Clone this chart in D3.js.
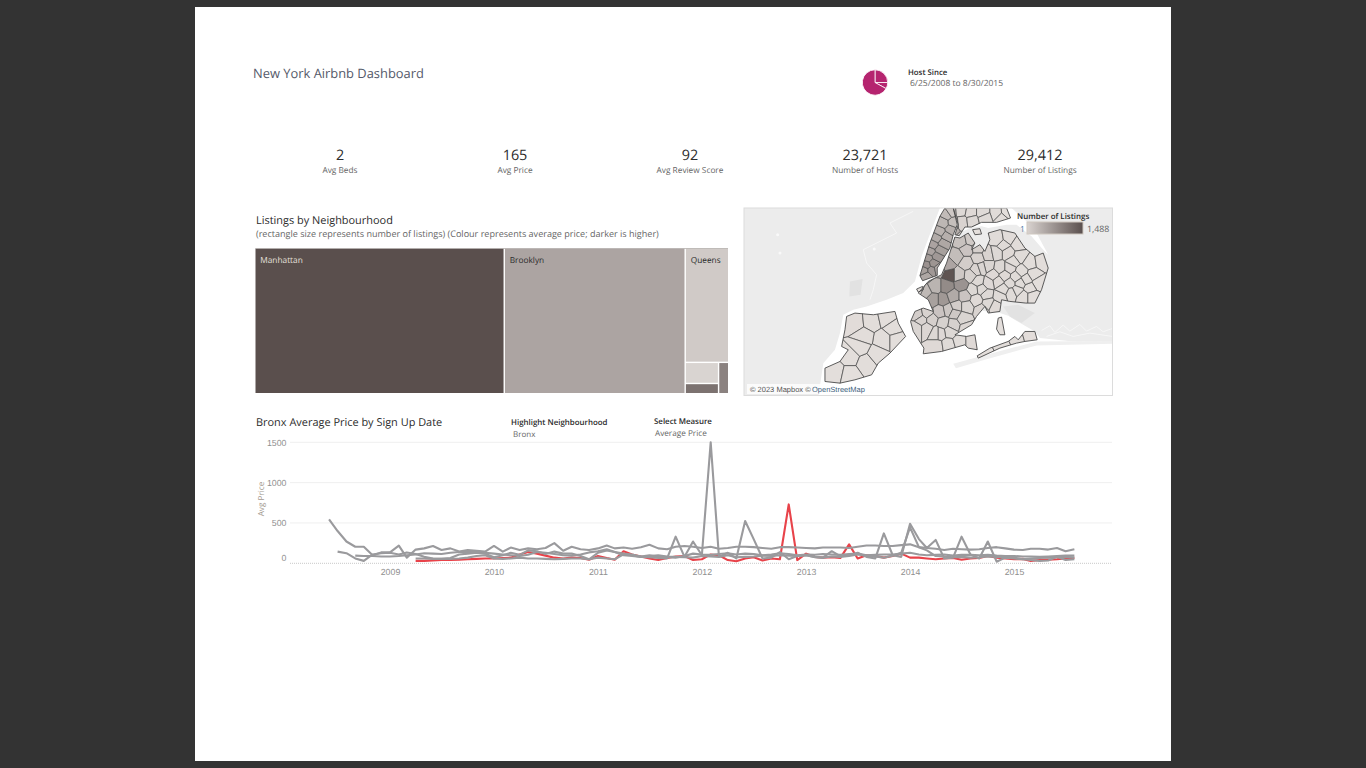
<!DOCTYPE html>
<html>
<head>
<meta charset="utf-8">
<title>New York Airbnb Dashboard</title>
<script src="https://cdnjs.cloudflare.com/ajax/libs/d3/7.8.5/d3.min.js"></script>
<style>
html, body { margin: 0; padding: 0; background: #333333; overflow: hidden; }
svg { display: block; font-family: "Open Sans", "Noto Sans", sans-serif; text-rendering: geometricPrecision; }
</style>
</head>
<body>
<svg id="dash" width="1366" height="768"></svg>
<script>
// kpi row
var kpiLabels = ["Avg Beds", "Avg Price", "Avg Review Score", "Number of Hosts", "Number of Listings"];
var kpiValues = ["2", "165", "92", "23,721", "29,412"];

// host since pie
var hostSlices = [25, 8, 67];

// treemap
var boroughs = ["Manhattan", "Brooklyn", "Queens", "Bronx", "Staten Island", "Other"];
var boroughListings = [15480, 11230, 2120, 300, 145, 135];
var boroughPrice = [190, 120, 89, 81, 161, 148];

// line chart, monthly values, one row per calendar year
var yearTicks = [2009, 2010, 2011, 2012, 2013, 2014, 2015];
var priceTicks = [0, 500, 1000, 1500];
var seriesA = [
  545, 400, 270, 205, 205, 100, 135,
  135, 220, 70, 170, 185, 215, 165, 185, 145, 165, 155, 145,
  215, 145, 195, 165, 185, 175, 190, 250, 155, 205, 175, 165,
  185, 220, 185, 195, 180, 200, 230, 185, 175, 205, 215, 205,
  190, 205, 180, 190, 205, 205, 200, 190, 180, 200, 200, 195,
  190, 185, 195, 195, 195, 190, 205, 220, 220, 215, 215, 225,
  235, 200, 190, 180, 165, 180, 175, 170, 175, 190, 200, 185,
  170, 165, 180, 180, 170, 190, 150, 175
];
var seriesB = [
  145, 125, 60, 30, 110, 125,
  130, 110, 135, 115, 80, 60, 55, 65, 110, 120, 130, 120,
  75, 100, 130, 105, 160, 150, 115, 145, 120, 120, 90, 50,
  130, 160, 140, 120, 110, 85, 100, 80, 75, 70, 90, 120,
  110, 105, 115, 125, 110, 120, 115, 100, 110, 125, 115, 100,
  110, 105, 115, 110, 105, 115, 120, 100, 105, 110, 110, 120,
  130, 110, 100, 105, 110, 95, 105, 105, 100, 105, 95, 90,
  90, 85, 85, 80, 85, 90, 95, 95
];
var seriesC = [
  95, 90, 90, 85,
  85, 90, 100, 110, 125, 120, 115, 130, 140, 145, 140, 130,
  120, 110, 100, 90, 105, 140, 130, 115, 100, 95, 110, 135,
  150, 175, 140, 100, 90, 80, 90, 100, 85, 80, 75, 70,
  90, 85, 80, 100, 75, 80, 85, 95, 90, 100, 95, 90,
  100, 75, 70, 85, 80, 90, 110, 95, 85, 70, 95, 130,
  445, 200, 160, 90, 85, 75, 80, 70, 75, 85, 80, 75,
  70, 50, 60, 65, 70, 75, 80, 70
];
var seriesD = [
  60, 60, 55, 55, 55, 60, 70, 90, 100,
  60, 55, 60, 70, 60, 60, 55, 50, 55, 60, 60, 50,
  70, 60, 50, 110, 100, 80, 75, 65, 60, 330, 80, 270,
  100, 1500, 80, 130, 60, 525, 300, 60, 70, 140, 50, 90,
  100, 80, 70, 150, 90, 100, 130, 80, 60, 370, 100, 80,
  490, 300, 190, 290, 60, 70, 330, 110, 60, 270, 20, 70,
  60, 50, 40, 30, 35, 80, 40, 50
];
var seriesRed = [
  30, 30, 35, 40, 40, 45, 50, 55, 60,
  60, 65, 70, 110, 140, 120, 95, 70, 60, 70, 65, 45,
  90, 65, 45, 150, 110, 85, 60, 40, 65, 85, 90, 40,
  50, 110, 100, 40, 25, 60, 75, 35, 60, 50, 730, 40,
  120, 80, 70, 75, 65, 235, 60, 100, 90, 70, 90, 120,
  70, 70, 60, 50, 60, 65, 45, 60, 65, 90, 70, 60,
  50, 55, 30, 40, 45, 50, 60, 65
];
var seriesStart = [
  [2008, 5], [2008, 6], [2008, 8], [2009, 3]
];

// map, traced in map units
var stateIsland = [[320,350],[345,340],[400,345],[465,335],[475,370],[497,410],[450,460],[415,490],[395,525],[345,540],[300,550],[255,545],[255,505],[300,485],[325,450],[305,440],[315,390]];
var manhattan = [[615,25],[640,25],[652,75],[640,105],[630,145],[592,205],[592,227],[548,243],[540,228],[570,130],[600,50]];
var bronx = [[640,25],[800,25],[812,55],[770,68],[725,68],[695,82],[675,82],[658,108],[645,105],[655,75]];
var longIsland = [[605,225],[620,190],[645,112],[660,115],[685,100],[705,130],[695,150],[720,135],[735,155],[750,120],[745,100],[780,90],[825,100],[855,145],[885,170],[910,160],[925,205],[905,270],[885,310],[858,310],[810,305],[785,300],[780,335],[745,340],[735,320],[710,350],[695,375],[645,405],[680,410],[705,405],[712,450],[685,445],[675,435],[605,455],[550,462],[552,445],[520,395],[512,365],[525,335],[550,325],[580,335],[565,300],[535,280],[565,245]];
var rockaway = [[712,468],[750,445],[805,425],[825,410],[835,420],[855,395],[885,395],[892,420],[855,425],[830,430],[780,445],[715,475]];
var channelIsland = [[775,355],[785,352],[795,405],[780,405],[770,388]];
var governors = [[530,268],[548,260],[550,270],[535,277]];
var rikers = [[698,90],[720,87],[725,103],[705,105]];
var landShapes = [stateIsland, manhattan, bronx, longIsland, rockaway, channelIsland, governors, rikers];

var harbourWater = [[600,25],[575,90],[545,170],[525,245],[490,280],[440,300],[380,320],[340,330],[310,345],[300,400],[285,450],[250,490],[235,590],[1118,590],[1118,425],[1000,425],[900,415],[885,395],[850,375],[805,348],[780,340],[700,330],[600,300],[625,200],[660,100],[690,85],[725,80],[745,85],[800,75],[830,75],[875,110],[910,150],[925,165],[890,100],[860,65],[815,25]];
var beachStrip = [[640,492],[720,470],[890,425],[1118,424],[1118,432],[890,437],[740,478],[648,505]];
var airportPatches = [[[790,320],[835,315],[885,340],[845,370],[810,350]], [[330,245],[368,238],[362,285],[328,290]]];
var riverLines = [
  [[520,35],[450,70],[470,100],[370,150],[380,190],[410,225],[400,270],[390,300]],
  [[905,392],[930,378],[945,398],[970,376],[990,394],[1020,374],[1040,394],[1070,380],[1090,396],[1118,386]],
  [[920,410],[960,396],[1000,410],[1050,400],[1118,410]]
];
var pondSpots = [[113,105],[120,160],[403,148]];

// [x, y, listings] for each neighbourhood
var mapZones = [
  [560,228,480],[553,212,560],[575,212,640],[560,195,720],[580,190,680],[595,208,440],[565,175,600],[590,170,640],
  [572,155,520],[600,150,560],[580,135,520],[610,130,480],[590,115,440],[620,110,400],[600,95,360],[632,90,400],
  [610,70,320],[640,68,240],[622,45,280],[632,38,160],
  [665,35,40],[690,40,30],[730,40,25],[770,40,20],[800,38,5],[668,65,70],[695,62,40],[735,52,25],[785,55,15],[712,96,1],
  [665,125,220],[690,120,150],[680,150,200],[715,145,100],[650,170,260],[680,190,120],[715,175,80],[745,165,70],
  [710,210,70],[745,200,60],[775,120,20],[805,115,15],[835,135,15],[770,160,40],[805,160,30],[840,170,20],
  [870,190,10],[905,185,8],[780,205,45],[810,205,35],[845,215,15],[880,225,10],[895,250,6],[870,265,8],[840,250,20],
  [810,250,25],[775,245,30],[745,250,35],[715,245,40],[700,270,45],[740,285,40],[765,320,30],[815,280,20],[850,290,15],[878,290,8],
  [632,225,1488],[625,195,500],[665,255,700],[620,260,800],[585,260,350],[610,300,650],[580,300,550],[640,290,450],
  [675,290,200],[600,335,200],[625,330,180],[645,340,160],[680,320,60],[670,355,60],[555,275,300],[535,345,120],
  [560,340,80],[575,360,100],[610,370,90],[640,375,90],[680,385,50],[725,330,70],[745,310,40],[530,385,60],[560,385,50],
  [590,400,40],[630,395,40],[695,425,30],[590,440,30],[625,435,25],[660,425,15],[780,290,25],[710,300,30],
  [790,135,25],[820,185,20],[760,225,35],[795,228,30],[828,232,22],[860,238,10],[790,268,22],[832,272,15],[725,205,60],[692,228,90],
  [655,225,160],[725,268,40],[600,400,35],[545,360,70],[650,320,120],
  [345,370,12],[395,365,8],[440,355,6],[460,385,10],[430,420,10],[470,420,5],[370,410,8],[330,470,4],[380,490,8],
  [285,515,3],[410,465,5],[360,440,6],[330,525,2],
  [735,465,6],[790,440,8],[830,420,10],[872,408,7],[782,380,2],[540,268,1]
];

var svg = d3.select("#dash");
var textDark = "#2b2b2b", textGrey = "#666666", axisGrey = "#8f8f8f";

svg.append("rect").attr("x", 195).attr("y", 7).attr("width", 976).attr("height", 754).attr("fill", "#ffffff");

function label(x, y, str, size, color, anchor, weight) {
  return svg.append("text").attr("x", x).attr("y", y).text(str)
    .attr("font-size", size).attr("fill", color)
    .attr("text-anchor", anchor || "start").attr("font-weight", weight || 400);
}

// header
label(253, 78, "New York Airbnb Dashboard", 12.9, "#555a6a");
label(908, 75, "Host Since", 7.8, textDark, "start", 600);
label(910, 86, "6/25/2008 to 8/30/2015", 8.5, textGrey);

var pieArc = d3.arc().innerRadius(0).outerRadius(12.7);
svg.append("g").attr("transform", "translate(875,82.5)")
  .selectAll("path").data(d3.pie().sort(null)(hostSlices)).join("path")
  .attr("d", pieArc).attr("fill", "#b5246f").attr("stroke", "#ffffff").attr("stroke-width", 0.8);

// kpis
var kpiX = d3.scalePoint().domain(kpiLabels).range([340, 1040]);
kpiLabels.forEach(function(name, i) {
  label(kpiX(name), 160, kpiValues[i], 14.4, textDark, "middle", 400);
  label(kpiX(name), 173, name, 8.3, textGrey, "middle");
});

// treemap
label(256, 224, "Listings by Neighbourhood", 10.95, textDark, "start", 500);
label(256, 237, "(rectangle size represents number of listings) (Colour represents average price; darker is higher)", 9.05, textGrey);

function leaf(i) { return { name: boroughs[i], value: boroughListings[i], price: boroughPrice[i] }; }
var treeData = { children: [leaf(0), leaf(1), { children: [leaf(2), { children: [
  { children: [leaf(3), leaf(4)] }, leaf(5) ] }] }] };

var priceColor = d3.scaleLinear().domain([75, 190]).range(["#e0dbd8", "#5a4f4d"]);
var treeRoot = d3.hierarchy(treeData).sum(function(d) { return d.value || 0; });
d3.treemap()
  .size([472.5, 144.5])
  .paddingInner(1.4)
  .tile(function(node, x0, y0, x1, y1) {
    (node.depth % 2 === 0 ? d3.treemapDice : d3.treemapSlice)(node, x0, y0, x1, y1);
  })(treeRoot);

var tree = svg.append("g").attr("transform", "translate(255.5,248.5)");
tree.selectAll("rect").data(treeRoot.leaves()).join("rect")
  .attr("x", function(d) { return d.x0; }).attr("y", function(d) { return d.y0; })
  .attr("width", function(d) { return d.x1 - d.x0; }).attr("height", function(d) { return d.y1 - d.y0; })
  .attr("fill", function(d) { return priceColor(d.data.price); });
tree.selectAll("text").data(treeRoot.leaves().slice(0, 3)).join("text")
  .attr("x", function(d) { return d.x0 + 4.8; }).attr("y", function(d) { return d.y0 + 14.5; })
  .attr("font-size", 8.3)
  .attr("fill", function(d) { return d.data.name === "Manhattan" ? "#e6e1dc" : "#2b2b2b"; })
  .text(function(d) { return d.data.name; });
svg.append("line").attr("x1", 255.5).attr("x2", 728).attr("y1", 248.5).attr("y2", 248.5)
  .attr("stroke", "#b5b0ad").attr("stroke-width", 0.8);

// map
var mapLeft = 744, mapTop = 208, mapW = 368.5, mapH = 187.5;
var mapX = d3.scaleLinear().domain([12, 1118]).range([mapLeft, mapLeft + mapW]);
var mapY = d3.scaleLinear().domain([25, 587]).range([mapTop, mapTop + mapH]);
var lineGen = d3.line().x(function(d) { return mapX(d[0]); }).y(function(d) { return mapY(d[1]); });
var shapeLine = d3.line().x(function(d) { return mapX(d[0]); }).y(function(d) { return mapY(d[1]); })
  .curve(d3.curveLinearClosed);

var defs = svg.append("defs");
defs.append("clipPath").attr("id", "mapPanel").append("rect")
  .attr("x", mapLeft).attr("y", mapTop).attr("width", mapW).attr("height", mapH);
defs.append("clipPath").attr("id", "landClip").selectAll("path").data(landShapes).join("path").attr("d", shapeLine);

var map = svg.append("g").attr("clip-path", "url(#mapPanel)");
map.append("rect").attr("x", mapLeft).attr("y", mapTop).attr("width", mapW).attr("height", mapH).attr("fill", "#ececec");
map.append("path").attr("d", shapeLine(harbourWater)).attr("fill", "#ffffff");
map.selectAll("path.patch").data(airportPatches).join("path").attr("class", "patch").attr("d", shapeLine).attr("fill", "#e2e2e2");
map.selectAll("path.river").data(riverLines).join("path").attr("class", "river").attr("d", lineGen)
  .attr("fill", "none").attr("stroke", "#ffffff").attr("stroke-width", 0.9).attr("opacity", 0.6);
map.selectAll("circle.pond").data(pondSpots).join("circle").attr("class", "pond")
  .attr("cx", function(d) { return mapX(d[0]); }).attr("cy", function(d) { return mapY(d[1]); })
  .attr("r", 1.5).attr("fill", "#ffffff").attr("opacity", 0.7);
map.append("path").attr("d", shapeLine(beachStrip)).attr("fill", "#efefef");

var zonePoints = mapZones.map(function(d) { return [mapX(d[0]), mapY(d[1])]; });
var voronoi = d3.Delaunay.from(zonePoints).voronoi([mapLeft - 50, mapTop - 50, mapLeft + mapW + 50, mapTop + mapH + 50]);
var listingColor = d3.scalePow().exponent(0.8).domain([1, 1488]).range(["#e4dfdc", "#5f5452"]);

map.append("g").attr("clip-path", "url(#landClip)")
  .selectAll("path").data(mapZones).join("path")
  .attr("d", function(d, i) { return voronoi.renderCell(i); })
  .attr("fill", function(d) { return listingColor(d[2]); })
  .attr("stroke", "#505050").attr("stroke-width", 0.75);
map.selectAll("path.outline").data(landShapes).join("path").attr("class", "outline")
  .attr("d", shapeLine).attr("fill", "none").attr("stroke", "#4a4a4a").attr("stroke-width", 0.9);

svg.append("rect").attr("x", mapLeft).attr("y", mapTop).attr("width", mapW).attr("height", mapH)
  .attr("fill", "none").attr("stroke", "#dcdcdc");

// map legend
var gradient = defs.append("linearGradient").attr("id", "listingRamp");
gradient.append("stop").attr("offset", "0%").attr("stop-color", "#d9d3d0");
gradient.append("stop").attr("offset", "100%").attr("stop-color", "#5a4f4d");
svg.append("rect").attr("x", 1027).attr("y", 222).attr("width", 56).attr("height", 12)
  .attr("fill", "url(#listingRamp)").attr("stroke", "#cfc8c0");
label(1017, 219, "Number of Listings", 7.9, textDark, "start", 600);
label(1020, 232, "1", 8.4, "#4e79a7");
label(1087, 232, "1,488", 8.8, textGrey);

svg.append("rect").attr("x", 747).attr("y", 384).attr("width", 120).attr("height", 10).attr("fill", "#ffffff").attr("opacity", 0.8);
label(750, 392, "\u00a9 2023 Mapbox \u00a9 ", 7.5, "#555555").style("font-family", "Liberation Sans");
label(812, 392, "OpenStreetMap", 7.5, "#3f5f80").style("font-family", "Liberation Sans");

// line chart
label(256, 426, "Bronx Average Price by Sign Up Date", 10.95, textDark, "start", 500);
label(511, 425, "Highlight Neighbourhood", 7.9, textDark, "start", 600);
label(513, 437, "Bronx", 8, textGrey);
label(654, 424, "Select Measure", 7.9, textDark, "start", 600);
label(655, 436, "Average Price", 8.2, textGrey);

var chartLeft = 290, chartRight = 1112, chartTop = 442.3, chartBottom = 563.3;
var x = d3.scaleTime()
  .domain([new Date(2009, 0, 1), new Date(2015, 0, 1)])
  .range([390, 1014]);
var y = d3.scaleLinear().domain([0, 1500]).range([chartBottom, chartTop]);

var grid = svg.append("g");
grid.selectAll("line").data(priceTicks.slice(1)).join("line")
  .attr("x1", chartLeft).attr("x2", chartRight)
  .attr("y1", function(d) { return y(d); }).attr("y2", function(d) { return y(d); })
  .attr("stroke", "#efefef");

var axisY = svg.append("g").attr("transform", "translate(286.5,0)")
  .call(d3.axisLeft(y).tickValues(priceTicks).tickSize(0).tickPadding(0).tickFormat(d3.format("d")));
axisY.select(".domain").remove();
axisY.selectAll("text").attr("font-size", 8.8).attr("fill", axisGrey).attr("font-family", null)
  .attr("dy", function(d) { return d === 0 ? "-0.3em" : "0.32em"; });

var axisX = svg.append("g").attr("transform", "translate(0," + chartBottom + ")")
  .call(d3.axisBottom(x)
    .tickValues(yearTicks.map(function(d) { return new Date(d, 0, 1); }))
    .tickSize(0).tickPadding(5).tickFormat(d3.timeFormat("%Y")));
axisX.select(".domain").remove();
axisX.selectAll("text").attr("font-size", 8.8).attr("fill", axisGrey).attr("font-family", null);
svg.append("line").attr("x1", chartLeft).attr("x2", chartRight).attr("y1", chartBottom).attr("y2", chartBottom)
  .attr("stroke", "#c9c9c9").attr("stroke-dasharray", "1,1");

svg.append("text").attr("transform", "translate(263.5,499) rotate(-90)").attr("text-anchor", "middle")
  .attr("font-size", 8.2).attr("fill", "#a39a90").text("Avg Price");

function monthly(values, start) {
  return values.map(function(v, i) { return { date: new Date(start[0], start[1] + i, 1), value: v }; });
}
var priceLine = d3.line().x(function(d) { return x(d.date); }).y(function(d) { return y(d.value); });
var lines = [
  { values: seriesRed, start: seriesStart[3], color: "#e8434a" },
  { values: seriesD, start: seriesStart[3], color: "#9a9a9d" },
  { values: seriesC, start: seriesStart[2], color: "#9a9a9d" },
  { values: seriesB, start: seriesStart[1], color: "#9a9a9d" },
  { values: seriesA, start: seriesStart[0], color: "#9a9a9d" }
];
svg.append("g").selectAll("path").data(lines).join("path")
  .attr("d", function(d) { return priceLine(monthly(d.values, d.start)); })
  .attr("fill", "none").attr("stroke", function(d) { return d.color; })
  .attr("stroke-width", 2.1).attr("stroke-linejoin", "round");
</script>
</body>
</html>
